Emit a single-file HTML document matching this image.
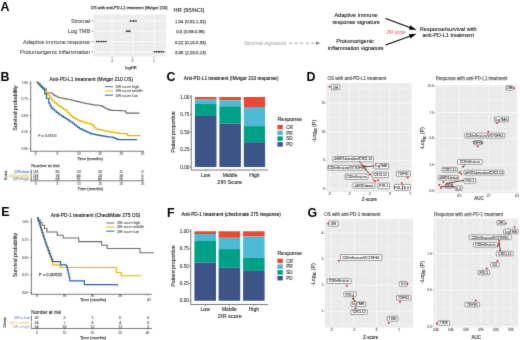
<!DOCTYPE html>
<html><head><meta charset="utf-8"><style>
html,body{margin:0;padding:0;background:#fff;width:520px;height:340px;overflow:hidden}
svg{display:block;font-family:"Liberation Sans", sans-serif}
#wrap{width:520px;height:340px}
</style></head><body><div id="wrap">
<svg width="520" height="340" viewBox="0 0 520 340" font-family='"Liberation Sans", sans-serif'>
<defs><filter id="soft" x="0" y="0" width="520" height="340" filterUnits="userSpaceOnUse" color-interpolation-filters="sRGB"><feConvolveMatrix order="3" kernelMatrix="1 8 1 8 64 8 1 8 1" divisor="100" edgeMode="duplicate"/></filter></defs>
<g filter="url(#soft)">
<rect width="520" height="340" fill="#fff"/>
<text x="0.60" y="10.51" font-size="12.4" text-anchor="start" fill="#000" font-weight="bold" >A</text>
<text x="129.20" y="8.86" font-size="4.05" text-anchor="middle" fill="none" stroke="#000" stroke-width="0.250" >OS with anti-PD-L1 treatment (Mvigor 210)</text>
<rect x="93.50" y="14.50" width="72.80" height="42.00" fill="#EDEDED" />
<line x1="101.00" y1="14.50" x2="101.00" y2="56.50" stroke="#fff" stroke-width="0.3" />
<line x1="122.00" y1="14.50" x2="122.00" y2="56.50" stroke="#fff" stroke-width="0.3" />
<line x1="143.00" y1="14.50" x2="143.00" y2="56.50" stroke="#fff" stroke-width="0.3" />
<line x1="164.00" y1="14.50" x2="164.00" y2="56.50" stroke="#fff" stroke-width="0.3" />
<line x1="112.00" y1="14.50" x2="112.00" y2="56.50" stroke="#fff" stroke-width="0.55" />
<line x1="132.50" y1="14.50" x2="132.50" y2="56.50" stroke="#fff" stroke-width="0.55" />
<line x1="154.00" y1="14.50" x2="154.00" y2="56.50" stroke="#fff" stroke-width="0.55" />
<line x1="93.50" y1="21.00" x2="166.30" y2="21.00" stroke="#fff" stroke-width="0.55" />
<text x="90.20" y="23.00" font-size="5.55" text-anchor="end" fill="#4a4a4a" stroke="#4a4a4a" stroke-width="0.09" >Stromal</text>
<line x1="91.30" y1="21.00" x2="93.50" y2="21.00" stroke="#555" stroke-width="0.5" />
<line x1="93.50" y1="31.20" x2="166.30" y2="31.20" stroke="#fff" stroke-width="0.55" />
<text x="90.20" y="33.20" font-size="5.55" text-anchor="end" fill="#4a4a4a" stroke="#4a4a4a" stroke-width="0.09" >Log TMB</text>
<line x1="91.30" y1="31.20" x2="93.50" y2="31.20" stroke="#555" stroke-width="0.5" />
<line x1="93.50" y1="41.50" x2="166.30" y2="41.50" stroke="#fff" stroke-width="0.55" />
<text x="90.20" y="43.50" font-size="5.55" text-anchor="end" fill="#4a4a4a" stroke="#4a4a4a" stroke-width="0.09" >Adaptive immune response</text>
<line x1="91.30" y1="41.50" x2="93.50" y2="41.50" stroke="#555" stroke-width="0.5" />
<line x1="93.50" y1="51.80" x2="166.30" y2="51.80" stroke="#fff" stroke-width="0.55" />
<text x="90.20" y="53.80" font-size="5.55" text-anchor="end" fill="#4a4a4a" stroke="#4a4a4a" stroke-width="0.09" >Protumorigenic inflammation</text>
<line x1="91.30" y1="51.80" x2="93.50" y2="51.80" stroke="#555" stroke-width="0.5" />
<line x1="112.00" y1="56.50" x2="112.00" y2="58.30" stroke="#555" stroke-width="0.5" />
<text x="112.00" y="62.46" font-size="3.5" text-anchor="middle" fill="none" stroke="#4D4D4D" stroke-width="0.200" >-1</text>
<line x1="132.50" y1="56.50" x2="132.50" y2="58.30" stroke="#555" stroke-width="0.5" />
<text x="132.50" y="62.46" font-size="3.5" text-anchor="middle" fill="none" stroke="#4D4D4D" stroke-width="0.200" >0</text>
<line x1="154.00" y1="56.50" x2="154.00" y2="58.30" stroke="#555" stroke-width="0.5" />
<text x="154.00" y="62.46" font-size="3.5" text-anchor="middle" fill="none" stroke="#4D4D4D" stroke-width="0.200" >1</text>
<text x="131.00" y="68.68" font-size="4.1" text-anchor="middle" fill="none" stroke="#111" stroke-width="0.250" >logHR</text>
<line x1="130.40" y1="21.00" x2="136.10" y2="21.00" stroke="#444" stroke-width="0.8" />
<circle cx="130.40" cy="21.0" r="0.75" fill="#222"/>
<circle cx="133.25" cy="21.0" r="0.75" fill="#222"/>
<circle cx="136.10" cy="21.0" r="0.75" fill="#222"/>
<circle cx="133.25" cy="21.0" r="0.6" fill="#7A2020"/>
<line x1="126.40" y1="31.20" x2="130.00" y2="31.20" stroke="#444" stroke-width="0.8" />
<circle cx="126.40" cy="31.2" r="0.75" fill="#222"/>
<circle cx="128.20" cy="31.2" r="0.75" fill="#222"/>
<circle cx="130.00" cy="31.2" r="0.75" fill="#222"/>
<circle cx="128.20" cy="31.2" r="0.6" fill="#7A2020"/>
<line x1="96.60" y1="41.60" x2="106.00" y2="41.60" stroke="#444" stroke-width="0.8" />
<circle cx="96.60" cy="41.6" r="0.75" fill="#222"/>
<circle cx="98.95" cy="41.6" r="0.75" fill="#222"/>
<circle cx="101.30" cy="41.6" r="0.75" fill="#222"/>
<circle cx="103.65" cy="41.6" r="0.75" fill="#222"/>
<circle cx="106.00" cy="41.6" r="0.75" fill="#222"/>
<circle cx="101.30" cy="41.6" r="0.6" fill="#7A2020"/>
<line x1="154.20" y1="51.80" x2="163.80" y2="51.80" stroke="#444" stroke-width="0.8" />
<circle cx="154.20" cy="51.8" r="0.75" fill="#222"/>
<circle cx="156.60" cy="51.8" r="0.75" fill="#222"/>
<circle cx="159.00" cy="51.8" r="0.75" fill="#222"/>
<circle cx="161.40" cy="51.8" r="0.75" fill="#222"/>
<circle cx="163.80" cy="51.8" r="0.75" fill="#222"/>
<circle cx="159.00" cy="51.8" r="0.6" fill="#7A2020"/>
<text x="173.50" y="12.07" font-size="5.75" text-anchor="start" fill="#222" stroke="#222" stroke-width="0.09" >HR (95%CI)</text>
<text x="190.50" y="22.57" font-size="4.36" text-anchor="middle" fill="none" stroke="#222" stroke-width="0.250" >1.04 (0.82-1.32)</text>
<text x="190.50" y="33.07" font-size="4.36" text-anchor="middle" fill="none" stroke="#222" stroke-width="0.250" >0.8 (0.69-0.96)</text>
<text x="190.50" y="43.57" font-size="4.36" text-anchor="middle" fill="none" stroke="#222" stroke-width="0.250" >0.22 (0.15-0.33)</text>
<text x="190.50" y="53.57" font-size="4.36" text-anchor="middle" fill="none" stroke="#222" stroke-width="0.250" >3.36 (2.23-5.13)</text>
<text x="265.30" y="45.06" font-size="5.45" text-anchor="middle" fill="#b4b4b4" stroke="#b4b4b4" stroke-width="0.09" >Stromal signature</text>
<line x1="289.00" y1="43.20" x2="317.00" y2="43.20" stroke="#8a8a8a" stroke-width="0.8" stroke-dasharray="3,2.6"/>
<polygon points="320.2,43.2 316.0,41.6 316.0,44.8" fill="#777"/>
<text x="356.00" y="17.42" font-size="5.6" text-anchor="middle" fill="#111" stroke="#111" stroke-width="0.09" >Adaptive immune</text>
<text x="356.20" y="24.12" font-size="5.6" text-anchor="middle" fill="#111" stroke="#111" stroke-width="0.09" >response signature</text>
<text x="355.00" y="43.02" font-size="5.6" text-anchor="middle" fill="#111" stroke="#111" stroke-width="0.09" >Protumorigenic</text>
<text x="355.80" y="49.70" font-size="5.55" text-anchor="middle" fill="#111" stroke="#111" stroke-width="0.09" >inflammation signature</text>
<line x1="385.60" y1="18.50" x2="412.50" y2="28.40" stroke="#000" stroke-width="1.1" />
<polygon points="416.6,29.9 410.2,25.3 409.0,29.6" fill="#000"/>
<line x1="385.60" y1="45.00" x2="412.50" y2="35.30" stroke="#000" stroke-width="1.1" />
<polygon points="416.6,33.8 409.0,34.2 410.2,38.4" fill="#000"/>
<text x="396.00" y="33.66" font-size="4.6" text-anchor="middle" fill="#E8737C" stroke="#E8737C" stroke-width="0.09" >2IR score</text>
<text x="448.20" y="30.50" font-size="5.55" text-anchor="middle" fill="#111" stroke="#111" stroke-width="0.09" >Response/survival with</text>
<text x="448.20" y="37.40" font-size="5.55" text-anchor="middle" fill="#111" stroke="#111" stroke-width="0.09" >anti-PD-L1 treatment</text>
<text x="0.60" y="80.61" font-size="12.4" text-anchor="start" fill="#000" font-weight="bold" >B</text>
<text x="91.20" y="81.26" font-size="4.9" text-anchor="middle" fill="#000" stroke="#000" stroke-width="0.09" >Anti-PD-L1 treatment (Mvigor 210 OS)</text>
<line x1="30.75" y1="81.20" x2="30.75" y2="151.50" stroke="#222" stroke-width="0.6" />
<line x1="30.50" y1="151.25" x2="144.00" y2="151.25" stroke="#222" stroke-width="0.6" />
<text x="27.80" y="84.19" font-size="3.3" text-anchor="end" fill="none" stroke="#4D4D4D" stroke-width="0.200" >1.00</text>
<line x1="29.50" y1="83.00" x2="30.75" y2="83.00" stroke="#222" stroke-width="0.5" />
<text x="27.80" y="100.44" font-size="3.3" text-anchor="end" fill="none" stroke="#4D4D4D" stroke-width="0.200" >0.75</text>
<line x1="29.50" y1="99.25" x2="30.75" y2="99.25" stroke="#222" stroke-width="0.5" />
<text x="27.80" y="116.94" font-size="3.3" text-anchor="end" fill="none" stroke="#4D4D4D" stroke-width="0.200" >0.50</text>
<line x1="29.50" y1="115.75" x2="30.75" y2="115.75" stroke="#222" stroke-width="0.5" />
<text x="27.80" y="133.19" font-size="3.3" text-anchor="end" fill="none" stroke="#4D4D4D" stroke-width="0.200" >0.25</text>
<line x1="29.50" y1="132.00" x2="30.75" y2="132.00" stroke="#222" stroke-width="0.5" />
<text x="27.80" y="149.94" font-size="3.3" text-anchor="end" fill="none" stroke="#4D4D4D" stroke-width="0.200" >0.00</text>
<line x1="29.50" y1="148.75" x2="30.75" y2="148.75" stroke="#222" stroke-width="0.5" />
<text transform="translate(16.94,108.20) rotate(-90)" font-size="5.4" text-anchor="middle" fill="#222" stroke="#222" stroke-width="0.09">Survival probability</text>
<line x1="35.75" y1="151.25" x2="35.75" y2="152.50" stroke="#222" stroke-width="0.5" />
<text x="35.75" y="155.09" font-size="3.3" text-anchor="middle" fill="none" stroke="#4D4D4D" stroke-width="0.200" >0</text>
<line x1="57.50" y1="151.25" x2="57.50" y2="152.50" stroke="#222" stroke-width="0.5" />
<text x="57.50" y="155.09" font-size="3.3" text-anchor="middle" fill="none" stroke="#4D4D4D" stroke-width="0.200" >5</text>
<line x1="78.75" y1="151.25" x2="78.75" y2="152.50" stroke="#222" stroke-width="0.5" />
<text x="78.75" y="155.09" font-size="3.3" text-anchor="middle" fill="none" stroke="#4D4D4D" stroke-width="0.200" >10</text>
<line x1="100.00" y1="151.25" x2="100.00" y2="152.50" stroke="#222" stroke-width="0.5" />
<text x="100.00" y="155.09" font-size="3.3" text-anchor="middle" fill="none" stroke="#4D4D4D" stroke-width="0.200" >15</text>
<line x1="121.25" y1="151.25" x2="121.25" y2="152.50" stroke="#222" stroke-width="0.5" />
<text x="121.25" y="155.09" font-size="3.3" text-anchor="middle" fill="none" stroke="#4D4D4D" stroke-width="0.200" >20</text>
<line x1="142.50" y1="151.25" x2="142.50" y2="152.50" stroke="#222" stroke-width="0.5" />
<text x="142.50" y="155.09" font-size="3.3" text-anchor="middle" fill="none" stroke="#4D4D4D" stroke-width="0.200" >25</text>
<text x="90.00" y="160.44" font-size="4.0" text-anchor="middle" fill="none" stroke="#222" stroke-width="0.250" >Time (months)</text>
<text x="38.00" y="137.20" font-size="3.9" text-anchor="start" fill="none" stroke="#222" stroke-width="0.200" >P = 0.0001</text>
<line x1="104.80" y1="86.70" x2="113.00" y2="86.70" stroke="#6A6A6A" stroke-width="1.0" />
<text x="115.40" y="88.02" font-size="3.66" text-anchor="start" fill="none" stroke="#222" stroke-width="0.200" >2IR score high</text>
<line x1="104.80" y1="90.95" x2="113.00" y2="90.95" stroke="#E7B800" stroke-width="1.0" />
<text x="115.40" y="92.27" font-size="3.66" text-anchor="start" fill="none" stroke="#222" stroke-width="0.200" >2IR score middle</text>
<line x1="104.80" y1="95.20" x2="113.00" y2="95.20" stroke="#2862B0" stroke-width="1.0" />
<text x="115.40" y="96.52" font-size="3.66" text-anchor="start" fill="none" stroke="#222" stroke-width="0.200" >2IR score low</text>
<polyline points="36.60,82.40 38.55,82.40 38.55,84.10 40.50,84.10 40.50,85.80 42.30,85.80 42.30,87.45 44.10,87.45 44.10,89.10 46.50,89.10 46.50,92.60 48.17,92.60 48.17,92.80 49.83,92.80 49.83,93.00 51.50,93.00 51.50,93.20 52.75,93.20 52.75,94.30 54.00,94.30 54.00,95.40 55.40,95.40 55.40,96.07 56.80,96.07 56.80,96.73 58.20,96.73 58.20,97.40 59.65,97.40 59.65,97.70 61.10,97.70 61.10,98.00 62.55,98.00 62.55,98.30 64.00,98.30 64.00,98.60 65.50,98.60 65.50,98.88 67.00,98.88 67.00,99.15 68.50,99.15 68.50,99.42 70.00,99.42 70.00,99.70 71.75,99.70 71.75,100.17 73.50,100.17 73.50,100.65 75.25,100.65 75.25,101.12 77.00,101.12 77.00,101.60 78.78,101.60 78.78,102.00 80.55,102.00 80.55,102.40 82.32,102.40 82.32,102.80 84.10,102.80 84.10,103.20 85.57,103.20 85.57,103.47 87.05,103.47 87.05,103.75 88.53,103.75 88.53,104.03 90.00,104.03 90.00,104.30 91.47,104.30 91.47,104.50 92.95,104.50 92.95,104.70 94.43,104.70 94.43,104.90 95.90,104.90 95.90,105.10 97.47,105.10 97.47,105.27 99.03,105.27 99.03,105.43 100.60,105.43 100.60,105.60 102.07,105.60 102.07,106.47 103.53,106.47 103.53,107.33 105.00,107.33 105.00,108.20 106.67,108.20 106.67,108.90 108.33,108.90 108.33,109.60 110.00,109.60 110.00,110.30 111.57,110.30 111.57,110.36 113.13,110.36 113.13,110.41 114.70,110.41 114.70,110.47 116.27,110.47 116.27,110.52 117.83,110.52 117.83,110.58 119.40,110.58 119.40,110.63 120.97,110.63 120.97,110.69 122.53,110.69 122.53,110.74 124.10,110.74 124.10,110.80 125.30,110.80 125.30,111.95 126.50,111.95 126.50,113.10 128.11,113.10 128.11,113.10 129.72,113.10 129.72,113.10 131.34,113.10 131.34,113.10 132.95,113.10 132.95,113.10 134.56,113.10 134.56,113.10 136.18,113.10 136.18,113.10 137.79,113.10 137.79,113.10 139.40,113.10 139.40,113.10" fill="none" stroke="#6A6A6A" stroke-width="1.05" stroke-linejoin="miter" />
<polyline points="36.60,82.40 38.55,82.40 38.55,84.20 40.50,84.20 40.50,86.00 41.87,86.00 41.87,87.43 43.23,87.43 43.23,88.87 44.60,88.87 44.60,90.30 46.20,90.30 46.20,92.65 47.80,92.65 47.80,95.00 49.50,95.00 49.50,97.35 51.20,97.35 51.20,99.70 52.85,99.70 52.85,101.25 54.50,101.25 54.50,102.80 56.35,102.80 56.35,104.20 58.20,104.20 58.20,105.60 59.85,105.60 59.85,106.70 61.50,106.70 61.50,107.80 63.40,107.80 63.40,109.05 65.30,109.05 65.30,110.30 67.15,110.30 67.15,112.25 69.00,112.25 69.00,114.20 70.70,114.20 70.70,115.80 72.40,115.80 72.40,117.40 74.20,117.40 74.20,118.40 76.00,118.40 76.00,119.40 77.70,119.40 77.70,120.15 79.40,120.15 79.40,120.90 81.27,120.90 81.27,121.47 83.13,121.47 83.13,122.03 85.00,122.03 85.00,122.60 86.55,122.60 86.55,123.05 88.10,123.05 88.10,123.50 89.65,123.50 89.65,123.95 91.20,123.95 91.20,124.40 92.77,124.40 92.77,125.97 94.33,125.97 94.33,127.53 95.90,127.53 95.90,129.10 97.77,129.10 97.77,129.47 99.63,129.47 99.63,129.83 101.50,129.83 101.50,130.20 103.03,130.20 103.03,130.52 104.55,130.52 104.55,130.85 106.07,130.85 106.07,131.18 107.60,131.18 107.60,131.50 109.40,131.50 109.40,131.83 111.20,131.83 111.20,132.17 113.00,132.17 113.00,132.50 114.60,132.50 114.60,132.72 116.20,132.72 116.20,132.95 117.80,132.95 117.80,133.18 119.40,133.18 119.40,133.40 121.18,133.40 121.18,133.50 122.95,133.50 122.95,133.60 124.72,133.60 124.72,133.70 126.50,133.70 126.50,133.80 127.60,133.80 127.60,135.70 129.22,135.70 129.22,135.70 130.85,135.70 130.85,135.70 132.47,135.70 132.47,135.70 134.10,135.70 134.10,135.70 135.72,135.70 135.72,135.70 137.35,135.70 137.35,135.70 138.97,135.70 138.97,135.70 140.60,135.70 140.60,135.70" fill="none" stroke="#E7B800" stroke-width="1.2" stroke-linejoin="miter" />
<polyline points="36.60,82.40 38.30,82.40 38.30,84.10 40.00,84.10 40.00,85.80 41.45,85.80 41.45,87.45 42.90,87.45 42.90,89.10 44.70,89.10 44.70,93.80 46.50,93.80 46.50,98.50 48.80,98.50 48.80,103.20 50.00,103.20 50.00,105.55 51.20,105.55 51.20,107.90 52.85,107.90 52.85,109.45 54.50,109.45 54.50,111.00 56.35,111.00 56.35,112.40 58.20,112.40 58.20,113.80 59.85,113.80 59.85,115.00 61.50,115.00 61.50,116.20 63.40,116.20 63.40,117.35 65.30,117.35 65.30,118.50 67.05,118.50 67.05,119.65 68.80,119.65 68.80,120.80 70.60,120.80 70.60,122.00 72.40,122.00 72.40,123.20 74.20,123.20 74.20,124.60 76.00,124.60 76.00,126.00 77.70,126.00 77.70,127.30 79.40,127.30 79.40,128.60 81.27,128.60 81.27,129.47 83.13,129.47 83.13,130.33 85.00,130.33 85.00,131.20 86.55,131.20 86.55,131.85 88.10,131.85 88.10,132.50 89.65,132.50 89.65,133.15 91.20,133.15 91.20,133.80 92.80,133.80 92.80,134.13 94.40,134.13 94.40,134.47 96.00,134.47 96.00,134.80 97.53,134.80 97.53,135.10 99.07,135.10 99.07,135.40 100.60,135.40 100.60,135.70 102.07,135.70 102.07,135.92 103.55,135.92 103.55,136.15 105.03,136.15 105.03,136.38 106.50,136.38 106.50,136.60 107.97,136.60 107.97,136.80 109.45,136.80 109.45,137.00 110.93,137.00 110.93,137.20 112.40,137.20 112.40,137.40 113.85,137.40 113.85,137.97 115.30,137.97 115.30,138.55 116.75,138.55 116.75,139.12 118.20,139.12 118.20,139.70 119.78,139.70 119.78,139.70 121.35,139.70 121.35,139.70 122.92,139.70 122.92,139.70 124.50,139.70 124.50,139.70 126.08,139.70 126.08,139.70 127.65,139.70 127.65,139.70 129.22,139.70 129.22,139.70 130.80,139.70 130.80,139.70 132.38,139.70 132.38,139.70 133.95,139.70 133.95,139.70 135.53,139.70 135.53,139.70 137.10,139.70 137.10,139.70" fill="none" stroke="#2862B0" stroke-width="1.2" stroke-linejoin="miter" />
<text x="31.20" y="167.38" font-size="4.4" text-anchor="start" fill="none" stroke="#222" stroke-width="0.250" >Number at risk</text>
<text transform="translate(6.66,175.50) rotate(-90)" font-size="3.5" text-anchor="middle" fill="none" stroke="#222" stroke-width="0.200">Strata</text>
<line x1="31.20" y1="169.80" x2="31.20" y2="181.50" stroke="#222" stroke-width="0.6" />
<line x1="31.00" y1="180.80" x2="144.00" y2="180.80" stroke="#222" stroke-width="0.6" />
<text x="28.90" y="173.24" font-size="4.0" text-anchor="end" fill="none" stroke="#5B84C4" stroke-width="0.250" >2IR=low</text>
<rect x="30.60" y="170.50" width="0.80" height="2.60" fill="#5B84C4" />
<text x="35.75" y="173.06" font-size="3.5" text-anchor="middle" fill="none" stroke="#222" stroke-width="0.200" >116</text>
<text x="57.50" y="173.06" font-size="3.5" text-anchor="middle" fill="none" stroke="#222" stroke-width="0.200" >60</text>
<text x="78.75" y="173.06" font-size="3.5" text-anchor="middle" fill="none" stroke="#222" stroke-width="0.200" >30</text>
<text x="100.00" y="173.06" font-size="3.5" text-anchor="middle" fill="none" stroke="#222" stroke-width="0.200" >20</text>
<text x="121.25" y="173.06" font-size="3.5" text-anchor="middle" fill="none" stroke="#222" stroke-width="0.200" >11</text>
<text x="142.50" y="173.06" font-size="3.5" text-anchor="middle" fill="none" stroke="#222" stroke-width="0.200" >0</text>
<text x="28.90" y="176.79" font-size="4.0" text-anchor="end" fill="none" stroke="#E3CB6A" stroke-width="0.250" >2IR=middle</text>
<rect x="30.60" y="174.05" width="0.80" height="2.60" fill="#E3CB6A" />
<text x="35.75" y="176.61" font-size="3.5" text-anchor="middle" fill="none" stroke="#222" stroke-width="0.200" >116</text>
<text x="57.50" y="176.61" font-size="3.5" text-anchor="middle" fill="none" stroke="#222" stroke-width="0.200" >79</text>
<text x="78.75" y="176.61" font-size="3.5" text-anchor="middle" fill="none" stroke="#222" stroke-width="0.200" >45</text>
<text x="100.00" y="176.61" font-size="3.5" text-anchor="middle" fill="none" stroke="#222" stroke-width="0.200" >30</text>
<text x="121.25" y="176.61" font-size="3.5" text-anchor="middle" fill="none" stroke="#222" stroke-width="0.200" >16</text>
<text x="142.50" y="176.61" font-size="3.5" text-anchor="middle" fill="none" stroke="#222" stroke-width="0.200" >0</text>
<text x="28.90" y="180.34" font-size="4.0" text-anchor="end" fill="none" stroke="#8C8C8C" stroke-width="0.250" >2IR=high</text>
<rect x="30.60" y="177.60" width="0.80" height="2.60" fill="#8C8C8C" />
<text x="35.75" y="180.16" font-size="3.5" text-anchor="middle" fill="none" stroke="#222" stroke-width="0.200" >116</text>
<text x="57.50" y="180.16" font-size="3.5" text-anchor="middle" fill="none" stroke="#222" stroke-width="0.200" >89</text>
<text x="78.75" y="180.16" font-size="3.5" text-anchor="middle" fill="none" stroke="#222" stroke-width="0.200" >61</text>
<text x="100.00" y="180.16" font-size="3.5" text-anchor="middle" fill="none" stroke="#222" stroke-width="0.200" >48</text>
<text x="121.25" y="180.16" font-size="3.5" text-anchor="middle" fill="none" stroke="#222" stroke-width="0.200" >28</text>
<text x="142.50" y="180.16" font-size="3.5" text-anchor="middle" fill="none" stroke="#222" stroke-width="0.200" >0</text>
<line x1="35.75" y1="180.80" x2="35.75" y2="182.00" stroke="#222" stroke-width="0.5" />
<text x="35.75" y="185.39" font-size="3.3" text-anchor="middle" fill="none" stroke="#4D4D4D" stroke-width="0.200" >0</text>
<line x1="57.50" y1="180.80" x2="57.50" y2="182.00" stroke="#222" stroke-width="0.5" />
<text x="57.50" y="185.39" font-size="3.3" text-anchor="middle" fill="none" stroke="#4D4D4D" stroke-width="0.200" >5</text>
<line x1="78.75" y1="180.80" x2="78.75" y2="182.00" stroke="#222" stroke-width="0.5" />
<text x="78.75" y="185.39" font-size="3.3" text-anchor="middle" fill="none" stroke="#4D4D4D" stroke-width="0.200" >10</text>
<line x1="100.00" y1="180.80" x2="100.00" y2="182.00" stroke="#222" stroke-width="0.5" />
<text x="100.00" y="185.39" font-size="3.3" text-anchor="middle" fill="none" stroke="#4D4D4D" stroke-width="0.200" >15</text>
<line x1="121.25" y1="180.80" x2="121.25" y2="182.00" stroke="#222" stroke-width="0.5" />
<text x="121.25" y="185.39" font-size="3.3" text-anchor="middle" fill="none" stroke="#4D4D4D" stroke-width="0.200" >20</text>
<line x1="142.50" y1="180.80" x2="142.50" y2="182.00" stroke="#222" stroke-width="0.5" />
<text x="142.50" y="185.39" font-size="3.3" text-anchor="middle" fill="none" stroke="#4D4D4D" stroke-width="0.200" >25</text>
<text x="90.30" y="189.74" font-size="4.0" text-anchor="middle" fill="none" stroke="#222" stroke-width="0.250" >Time (months)</text>
<text x="166.60" y="81.06" font-size="12.4" text-anchor="start" fill="#000" font-weight="bold" >C</text>
<text x="231.20" y="80.46" font-size="4.75" text-anchor="middle" fill="#000" stroke="#000" stroke-width="0.09" >Anti-PD-L1 treatment (IMvigor 210 response)</text>
<line x1="191.25" y1="95.00" x2="191.25" y2="170.00" stroke="#222" stroke-width="0.6" />
<line x1="191.25" y1="170.00" x2="268.00" y2="170.00" stroke="#222" stroke-width="0.6" />
<text x="189.25" y="98.66" font-size="4.6" text-anchor="end" fill="#333" stroke="#333" stroke-width="0.09" >1.00</text>
<line x1="189.75" y1="97.00" x2="191.25" y2="97.00" stroke="#222" stroke-width="0.5" />
<text x="189.25" y="116.16" font-size="4.6" text-anchor="end" fill="#333" stroke="#333" stroke-width="0.09" >0.75</text>
<line x1="189.75" y1="114.50" x2="191.25" y2="114.50" stroke="#222" stroke-width="0.5" />
<text x="189.25" y="133.66" font-size="4.6" text-anchor="end" fill="#333" stroke="#333" stroke-width="0.09" >0.50</text>
<line x1="189.75" y1="132.00" x2="191.25" y2="132.00" stroke="#222" stroke-width="0.5" />
<text x="189.25" y="151.16" font-size="4.6" text-anchor="end" fill="#333" stroke="#333" stroke-width="0.09" >0.25</text>
<line x1="189.75" y1="149.50" x2="191.25" y2="149.50" stroke="#222" stroke-width="0.5" />
<text x="189.25" y="168.66" font-size="4.6" text-anchor="end" fill="#333" stroke="#333" stroke-width="0.09" >0.00</text>
<line x1="189.75" y1="167.00" x2="191.25" y2="167.00" stroke="#222" stroke-width="0.5" />
<text transform="translate(175.19,132.00) rotate(-90)" font-size="5.25" text-anchor="middle" fill="#222" stroke="#222" stroke-width="0.09">Patient proportion</text>
<rect x="194.90" y="97.00" width="21.60" height="2.50" fill="#E64B35" />
<rect x="194.90" y="99.50" width="21.60" height="4.50" fill="#4DBBD5" />
<rect x="194.90" y="104.00" width="21.60" height="12.00" fill="#00A087" />
<rect x="194.90" y="116.00" width="21.60" height="51.00" fill="#3C5488" />
<line x1="205.70" y1="170.00" x2="205.70" y2="171.30" stroke="#222" stroke-width="0.5" />
<text x="205.70" y="176.70" font-size="5.0" text-anchor="middle" fill="#222" stroke="#222" stroke-width="0.09" >Low</text>
<rect x="219.40" y="97.00" width="21.50" height="3.40" fill="#E64B35" />
<rect x="219.40" y="100.40" width="21.50" height="5.90" fill="#4DBBD5" />
<rect x="219.40" y="106.30" width="21.50" height="17.30" fill="#00A087" />
<rect x="219.40" y="123.60" width="21.50" height="43.40" fill="#3C5488" />
<line x1="230.15" y1="170.00" x2="230.15" y2="171.30" stroke="#222" stroke-width="0.5" />
<text x="230.15" y="176.70" font-size="5.0" text-anchor="middle" fill="#222" stroke="#222" stroke-width="0.09" >Middle</text>
<rect x="243.80" y="97.00" width="21.30" height="10.00" fill="#E64B35" />
<rect x="243.80" y="107.00" width="21.30" height="19.10" fill="#4DBBD5" />
<rect x="243.80" y="126.10" width="21.30" height="16.10" fill="#00A087" />
<rect x="243.80" y="142.20" width="21.30" height="24.80" fill="#3C5488" />
<line x1="254.45" y1="170.00" x2="254.45" y2="171.30" stroke="#222" stroke-width="0.5" />
<text x="254.45" y="176.70" font-size="5.0" text-anchor="middle" fill="#222" stroke="#222" stroke-width="0.09" >High</text>
<text x="229.80" y="184.22" font-size="5.6" text-anchor="middle" fill="#222" stroke="#222" stroke-width="0.09" >2IR Score</text>
<text x="277.40" y="120.98" font-size="5.5" text-anchor="start" fill="#222" stroke="#222" stroke-width="0.09" >Response</text>
<rect x="277.40" y="124.85" width="5.40" height="4.50" fill="#E64B35" />
<text x="286.20" y="128.79" font-size="4.7" text-anchor="start" fill="#222" stroke="#222" stroke-width="0.09" >CR</text>
<rect x="277.40" y="130.60" width="5.40" height="4.50" fill="#4DBBD5" />
<text x="286.20" y="134.54" font-size="4.7" text-anchor="start" fill="#222" stroke="#222" stroke-width="0.09" >PR</text>
<rect x="277.40" y="136.35" width="5.40" height="4.50" fill="#00A087" />
<text x="286.20" y="140.29" font-size="4.7" text-anchor="start" fill="#222" stroke="#222" stroke-width="0.09" >SD</text>
<rect x="277.40" y="142.10" width="5.40" height="4.50" fill="#3C5488" />
<text x="286.20" y="146.04" font-size="4.7" text-anchor="start" fill="#222" stroke="#222" stroke-width="0.09" >PD</text>
<text x="167.00" y="216.71" font-size="12.4" text-anchor="start" fill="#000" font-weight="bold" >F</text>
<text x="231.20" y="215.96" font-size="4.75" text-anchor="middle" fill="#000" stroke="#000" stroke-width="0.09" >Anti-PD-1 treatment (checkmate 275 response)</text>
<line x1="190.75" y1="229.25" x2="190.75" y2="304.50" stroke="#222" stroke-width="0.6" />
<line x1="190.75" y1="304.50" x2="268.00" y2="304.50" stroke="#222" stroke-width="0.6" />
<text x="188.75" y="232.91" font-size="4.6" text-anchor="end" fill="#333" stroke="#333" stroke-width="0.09" >1.00</text>
<line x1="189.25" y1="231.25" x2="190.75" y2="231.25" stroke="#222" stroke-width="0.5" />
<text x="188.75" y="250.28" font-size="4.6" text-anchor="end" fill="#333" stroke="#333" stroke-width="0.09" >0.75</text>
<line x1="189.25" y1="248.62" x2="190.75" y2="248.62" stroke="#222" stroke-width="0.5" />
<text x="188.75" y="267.66" font-size="4.6" text-anchor="end" fill="#333" stroke="#333" stroke-width="0.09" >0.50</text>
<line x1="189.25" y1="266.00" x2="190.75" y2="266.00" stroke="#222" stroke-width="0.5" />
<text x="188.75" y="285.03" font-size="4.6" text-anchor="end" fill="#333" stroke="#333" stroke-width="0.09" >0.25</text>
<line x1="189.25" y1="283.38" x2="190.75" y2="283.38" stroke="#222" stroke-width="0.5" />
<text x="188.75" y="302.41" font-size="4.6" text-anchor="end" fill="#333" stroke="#333" stroke-width="0.09" >0.00</text>
<line x1="189.25" y1="300.75" x2="190.75" y2="300.75" stroke="#222" stroke-width="0.5" />
<text transform="translate(175.19,266.00) rotate(-90)" font-size="5.25" text-anchor="middle" fill="#222" stroke="#222" stroke-width="0.09">Patient proportion</text>
<rect x="194.40" y="231.25" width="21.60" height="2.75" fill="#E64B35" />
<rect x="194.40" y="234.00" width="21.60" height="7.00" fill="#4DBBD5" />
<rect x="194.40" y="241.00" width="21.60" height="21.60" fill="#00A087" />
<rect x="194.40" y="262.60" width="21.60" height="38.15" fill="#3C5488" />
<line x1="205.20" y1="304.50" x2="205.20" y2="305.80" stroke="#222" stroke-width="0.5" />
<text x="205.20" y="310.55" font-size="5.0" text-anchor="middle" fill="#222" stroke="#222" stroke-width="0.09" >Low</text>
<rect x="218.60" y="231.25" width="21.60" height="6.55" fill="#E64B35" />
<rect x="218.60" y="237.80" width="21.60" height="11.30" fill="#4DBBD5" />
<rect x="218.60" y="249.10" width="21.60" height="18.70" fill="#00A087" />
<rect x="218.60" y="267.80" width="21.60" height="32.95" fill="#3C5488" />
<line x1="229.40" y1="304.50" x2="229.40" y2="305.80" stroke="#222" stroke-width="0.5" />
<text x="229.40" y="310.55" font-size="5.0" text-anchor="middle" fill="#222" stroke="#222" stroke-width="0.09" >Middle</text>
<rect x="243.10" y="231.25" width="21.50" height="5.25" fill="#E64B35" />
<rect x="243.10" y="236.50" width="21.50" height="21.50" fill="#4DBBD5" />
<rect x="243.10" y="258.00" width="21.50" height="12.90" fill="#00A087" />
<rect x="243.10" y="270.90" width="21.50" height="29.85" fill="#3C5488" />
<line x1="253.85" y1="304.50" x2="253.85" y2="305.80" stroke="#222" stroke-width="0.5" />
<text x="253.85" y="310.55" font-size="5.0" text-anchor="middle" fill="#222" stroke="#222" stroke-width="0.09" >High</text>
<text x="229.80" y="318.27" font-size="5.6" text-anchor="middle" fill="#222" stroke="#222" stroke-width="0.09" >2IR score</text>
<text x="277.40" y="255.28" font-size="5.5" text-anchor="start" fill="#222" stroke="#222" stroke-width="0.09" >Response</text>
<rect x="277.40" y="258.65" width="5.40" height="4.50" fill="#E64B35" />
<text x="286.20" y="262.59" font-size="4.7" text-anchor="start" fill="#222" stroke="#222" stroke-width="0.09" >CR</text>
<rect x="277.40" y="264.40" width="5.40" height="4.50" fill="#4DBBD5" />
<text x="286.20" y="268.34" font-size="4.7" text-anchor="start" fill="#222" stroke="#222" stroke-width="0.09" >PR</text>
<rect x="277.40" y="270.15" width="5.40" height="4.50" fill="#00A087" />
<text x="286.20" y="274.09" font-size="4.7" text-anchor="start" fill="#222" stroke="#222" stroke-width="0.09" >SD</text>
<rect x="277.40" y="275.90" width="5.40" height="4.50" fill="#3C5488" />
<text x="286.20" y="279.84" font-size="4.7" text-anchor="start" fill="#222" stroke="#222" stroke-width="0.09" >PD</text>
<text x="306.40" y="81.41" font-size="12.4" text-anchor="start" fill="#000" font-weight="bold" >D</text>
<text x="327.50" y="79.72" font-size="4.5" text-anchor="start" fill="#333" stroke="#333" stroke-width="0.09" >OS with anti-PD-L1 treatment</text>
<rect x="326.60" y="83.00" width="85.30" height="108.80" fill="#EBEBEB" />
<line x1="339.45" y1="83.00" x2="339.45" y2="191.80" stroke="#fff" stroke-width="0.3" />
<line x1="359.35" y1="83.00" x2="359.35" y2="191.80" stroke="#fff" stroke-width="0.3" />
<line x1="379.25" y1="83.00" x2="379.25" y2="191.80" stroke="#fff" stroke-width="0.3" />
<line x1="399.15" y1="83.00" x2="399.15" y2="191.80" stroke="#fff" stroke-width="0.3" />
<line x1="326.60" y1="88.65" x2="411.90" y2="88.65" stroke="#fff" stroke-width="0.3" />
<line x1="326.60" y1="117.35" x2="411.90" y2="117.35" stroke="#fff" stroke-width="0.3" />
<line x1="326.60" y1="146.05" x2="411.90" y2="146.05" stroke="#fff" stroke-width="0.3" />
<line x1="326.60" y1="174.75" x2="411.90" y2="174.75" stroke="#fff" stroke-width="0.3" />
<line x1="329.50" y1="83.00" x2="329.50" y2="191.80" stroke="#fff" stroke-width="0.55" />
<line x1="329.50" y1="191.80" x2="329.50" y2="193.00" stroke="#555" stroke-width="0.45" />
<text x="329.50" y="195.38" font-size="3.0" text-anchor="middle" fill="none" stroke="#4D4D4D" stroke-width="0.200" >-3</text>
<line x1="349.40" y1="83.00" x2="349.40" y2="191.80" stroke="#fff" stroke-width="0.55" />
<line x1="349.40" y1="191.80" x2="349.40" y2="193.00" stroke="#555" stroke-width="0.45" />
<text x="349.40" y="195.38" font-size="3.0" text-anchor="middle" fill="none" stroke="#4D4D4D" stroke-width="0.200" >-2</text>
<line x1="369.70" y1="83.00" x2="369.70" y2="191.80" stroke="#fff" stroke-width="0.55" />
<line x1="369.70" y1="191.80" x2="369.70" y2="193.00" stroke="#555" stroke-width="0.45" />
<text x="369.70" y="195.38" font-size="3.0" text-anchor="middle" fill="none" stroke="#4D4D4D" stroke-width="0.200" >-1</text>
<line x1="390.00" y1="83.00" x2="390.00" y2="191.80" stroke="#fff" stroke-width="0.55" />
<line x1="390.00" y1="191.80" x2="390.00" y2="193.00" stroke="#555" stroke-width="0.45" />
<text x="390.00" y="195.38" font-size="3.0" text-anchor="middle" fill="none" stroke="#4D4D4D" stroke-width="0.200" >0</text>
<line x1="410.30" y1="83.00" x2="410.30" y2="191.80" stroke="#fff" stroke-width="0.55" />
<line x1="410.30" y1="191.80" x2="410.30" y2="193.00" stroke="#555" stroke-width="0.45" />
<text x="410.30" y="195.38" font-size="3.0" text-anchor="middle" fill="none" stroke="#4D4D4D" stroke-width="0.200" >1</text>
<line x1="326.60" y1="103.00" x2="411.90" y2="103.00" stroke="#fff" stroke-width="0.55" />
<line x1="325.40" y1="103.00" x2="326.60" y2="103.00" stroke="#555" stroke-width="0.45" />
<text x="324.80" y="104.08" font-size="3.0" text-anchor="end" fill="none" stroke="#4D4D4D" stroke-width="0.200" >15</text>
<line x1="326.60" y1="131.70" x2="411.90" y2="131.70" stroke="#fff" stroke-width="0.55" />
<line x1="325.40" y1="131.70" x2="326.60" y2="131.70" stroke="#555" stroke-width="0.45" />
<text x="324.80" y="132.78" font-size="3.0" text-anchor="end" fill="none" stroke="#4D4D4D" stroke-width="0.200" >10</text>
<line x1="326.60" y1="160.40" x2="411.90" y2="160.40" stroke="#fff" stroke-width="0.55" />
<line x1="325.40" y1="160.40" x2="326.60" y2="160.40" stroke="#555" stroke-width="0.45" />
<text x="324.80" y="161.48" font-size="3.0" text-anchor="end" fill="none" stroke="#4D4D4D" stroke-width="0.200" >5</text>
<line x1="326.60" y1="189.00" x2="411.90" y2="189.00" stroke="#fff" stroke-width="0.55" />
<line x1="325.40" y1="189.00" x2="326.60" y2="189.00" stroke="#555" stroke-width="0.45" />
<text x="324.80" y="190.08" font-size="3.0" text-anchor="end" fill="none" stroke="#4D4D4D" stroke-width="0.200" >0</text>
<text transform="translate(315.77,131.00) rotate(-90)" font-size="5.2" text-anchor="middle" fill="#222" stroke="#222" stroke-width="0.09">-Log<tspan font-size="3.4" dy="1.3">10</tspan><tspan dy="-1.3"> (P)</tspan></text>
<text x="369.50" y="200.62" font-size="4.5" text-anchor="middle" fill="#222" stroke="#222" stroke-width="0.09" >Z-score</text>
<rect x="331.30" y="84.70" width="8.50" height="5.10" rx="0.8" fill="#fff" stroke="#444" stroke-width="0.5"/>
<text x="335.55" y="88.51" font-size="3.5" text-anchor="middle" fill="none" stroke="#000" stroke-width="0.200" >2IR</text>
<rect x="333.00" y="156.60" width="40.40" height="5.20" rx="0.8" fill="#fff" stroke="#444" stroke-width="0.5"/>
<text x="353.20" y="160.46" font-size="3.5" text-anchor="middle" fill="none" stroke="#000" stroke-width="0.200" >ARID1AmutAndCXCL13</text>
<rect x="327.80" y="165.30" width="38.10" height="4.90" rx="0.8" fill="#fff" stroke="#444" stroke-width="0.5"/>
<text x="346.85" y="169.01" font-size="3.5" text-anchor="middle" fill="none" stroke="#000" stroke-width="0.200" >CD8effectors/VSTGFB1</text>
<rect x="373.80" y="163.60" width="15.00" height="5.20" rx="0.8" fill="#fff" stroke="#444" stroke-width="0.5"/>
<text x="381.30" y="167.46" font-size="3.5" text-anchor="middle" fill="none" stroke="#000" stroke-width="0.200" >logTMB</text>
<rect x="345.00" y="174.00" width="23.00" height="5.40" rx="0.8" fill="#fff" stroke="#444" stroke-width="0.5"/>
<text x="356.50" y="177.96" font-size="3.5" text-anchor="middle" fill="none" stroke="#000" stroke-width="0.200" >CD8effectors</text>
<rect x="372.00" y="172.20" width="16.40" height="5.40" rx="0.8" fill="#fff" stroke="#444" stroke-width="0.5"/>
<text x="380.20" y="176.16" font-size="3.5" text-anchor="middle" fill="none" stroke="#000" stroke-width="0.200" >CXCL13</text>
<rect x="396.30" y="171.20" width="14.20" height="5.10" rx="0.8" fill="#fff" stroke="#444" stroke-width="0.5"/>
<text x="403.40" y="175.01" font-size="3.5" text-anchor="middle" fill="none" stroke="#000" stroke-width="0.200" >TGFB1</text>
<rect x="353.00" y="183.00" width="21.80" height="5.20" rx="0.8" fill="#fff" stroke="#444" stroke-width="0.5"/>
<text x="363.90" y="186.86" font-size="3.5" text-anchor="middle" fill="none" stroke="#000" stroke-width="0.200" >ARID1Amut</text>
<rect x="378.00" y="183.20" width="11.50" height="5.60" rx="0.8" fill="#fff" stroke="#444" stroke-width="0.5"/>
<text x="383.75" y="187.26" font-size="3.5" text-anchor="middle" fill="none" stroke="#000" stroke-width="0.200" >PDL1</text>
<rect x="394.50" y="184.40" width="8.50" height="5.80" rx="0.8" fill="#fff" stroke="#444" stroke-width="0.5"/>
<text x="398.75" y="188.56" font-size="3.5" text-anchor="middle" fill="none" stroke="#000" stroke-width="0.200" >PDL1</text>
<rect x="403.00" y="184.40" width="7.50" height="5.80" rx="0.8" fill="#fff" stroke="#444" stroke-width="0.5"/>
<text x="406.75" y="188.56" font-size="3.5" text-anchor="middle" fill="none" stroke="#000" stroke-width="0.200" >IL8</text>
<line x1="359.30" y1="161.40" x2="370.10" y2="174.90" stroke="#4A0E0E" stroke-width="0.75" />
<line x1="362.70" y1="166.80" x2="374.10" y2="166.00" stroke="#4A0E0E" stroke-width="0.75" />
<line x1="372.50" y1="179.50" x2="375.50" y2="181.20" stroke="#4A0E0E" stroke-width="0.75" />
<circle cx="329.60" cy="86.80" r="0.95" fill="#D42A2A"/>
<circle cx="363.40" cy="166.20" r="0.95" fill="#D42A2A"/>
<circle cx="370.10" cy="174.60" r="0.95" fill="#D42A2A"/>
<circle cx="375.50" cy="181.20" r="0.95" fill="#D42A2A"/>
<circle cx="378.20" cy="180.30" r="0.95" fill="#D42A2A"/>
<circle cx="401.90" cy="183.10" r="0.95" fill="#D42A2A"/>
<circle cx="407.70" cy="177.50" r="0.95" fill="#D42A2A"/>
<text x="471.60" y="79.60" font-size="4.45" text-anchor="middle" fill="none" stroke="#333" stroke-width="0.250" >Response with anti-PD-L1 treatment</text>
<rect x="435.50" y="85.00" width="82.00" height="108.00" fill="#EBEBEB" />
<line x1="444.70" y1="85.00" x2="444.70" y2="193.00" stroke="#fff" stroke-width="0.3" />
<line x1="474.10" y1="85.00" x2="474.10" y2="193.00" stroke="#fff" stroke-width="0.3" />
<line x1="503.50" y1="85.00" x2="503.50" y2="193.00" stroke="#fff" stroke-width="0.3" />
<line x1="435.50" y1="99.40" x2="517.50" y2="99.40" stroke="#fff" stroke-width="0.3" />
<line x1="435.50" y1="125.60" x2="517.50" y2="125.60" stroke="#fff" stroke-width="0.3" />
<line x1="435.50" y1="151.80" x2="517.50" y2="151.80" stroke="#fff" stroke-width="0.3" />
<line x1="435.50" y1="178.00" x2="517.50" y2="178.00" stroke="#fff" stroke-width="0.3" />
<line x1="459.40" y1="85.00" x2="459.40" y2="193.00" stroke="#fff" stroke-width="0.55" />
<line x1="459.40" y1="193.00" x2="459.40" y2="194.20" stroke="#555" stroke-width="0.45" />
<text x="459.40" y="196.58" font-size="3.0" text-anchor="middle" fill="none" stroke="#4D4D4D" stroke-width="0.200" >0.6</text>
<line x1="488.80" y1="85.00" x2="488.80" y2="193.00" stroke="#fff" stroke-width="0.55" />
<line x1="488.80" y1="193.00" x2="488.80" y2="194.20" stroke="#555" stroke-width="0.45" />
<text x="488.80" y="196.58" font-size="3.0" text-anchor="middle" fill="none" stroke="#4D4D4D" stroke-width="0.200" >0.7</text>
<line x1="517.00" y1="85.00" x2="517.00" y2="193.00" stroke="#fff" stroke-width="0.55" />
<line x1="517.00" y1="193.00" x2="517.00" y2="194.20" stroke="#555" stroke-width="0.45" />
<text x="517.00" y="196.58" font-size="3.0" text-anchor="middle" fill="none" stroke="#4D4D4D" stroke-width="0.200" >0.8</text>
<line x1="435.50" y1="86.30" x2="517.50" y2="86.30" stroke="#fff" stroke-width="0.55" />
<line x1="434.30" y1="86.30" x2="435.50" y2="86.30" stroke="#555" stroke-width="0.45" />
<text x="433.70" y="87.38" font-size="3.0" text-anchor="end" fill="none" stroke="#4D4D4D" stroke-width="0.200" >10.0</text>
<line x1="435.50" y1="112.50" x2="517.50" y2="112.50" stroke="#fff" stroke-width="0.55" />
<line x1="434.30" y1="112.50" x2="435.50" y2="112.50" stroke="#555" stroke-width="0.45" />
<text x="433.70" y="113.58" font-size="3.0" text-anchor="end" fill="none" stroke="#4D4D4D" stroke-width="0.200" >7.5</text>
<line x1="435.50" y1="138.20" x2="517.50" y2="138.20" stroke="#fff" stroke-width="0.55" />
<line x1="434.30" y1="138.20" x2="435.50" y2="138.20" stroke="#555" stroke-width="0.45" />
<text x="433.70" y="139.28" font-size="3.0" text-anchor="end" fill="none" stroke="#4D4D4D" stroke-width="0.200" >5.0</text>
<line x1="435.50" y1="164.80" x2="517.50" y2="164.80" stroke="#fff" stroke-width="0.55" />
<line x1="434.30" y1="164.80" x2="435.50" y2="164.80" stroke="#555" stroke-width="0.45" />
<text x="433.70" y="165.88" font-size="3.0" text-anchor="end" fill="none" stroke="#4D4D4D" stroke-width="0.200" >2.5</text>
<line x1="435.50" y1="190.80" x2="517.50" y2="190.80" stroke="#fff" stroke-width="0.55" />
<line x1="434.30" y1="190.80" x2="435.50" y2="190.80" stroke="#555" stroke-width="0.45" />
<text x="433.70" y="191.88" font-size="3.0" text-anchor="end" fill="none" stroke="#4D4D4D" stroke-width="0.200" >0.0</text>
<text transform="translate(424.37,138.50) rotate(-90)" font-size="5.2" text-anchor="middle" fill="#222" stroke="#222" stroke-width="0.09">-Log<tspan font-size="3.4" dy="1.3">10</tspan><tspan dy="-1.3"> (P)</tspan></text>
<text x="479.00" y="200.22" font-size="4.5" text-anchor="middle" fill="#222" stroke="#222" stroke-width="0.09" >AUC</text>
<rect x="506.00" y="85.80" width="7.00" height="4.40" rx="0.8" fill="#fff" stroke="#444" stroke-width="0.5"/>
<text x="509.50" y="89.26" font-size="3.5" text-anchor="middle" fill="none" stroke="#000" stroke-width="0.200" >2IR</text>
<rect x="494.50" y="117.00" width="14.00" height="5.00" rx="0.8" fill="#fff" stroke="#444" stroke-width="0.5"/>
<text x="501.50" y="120.76" font-size="3.5" text-anchor="middle" fill="none" stroke="#000" stroke-width="0.200" >logTMB</text>
<rect x="464.70" y="133.20" width="40.10" height="4.80" rx="0.8" fill="#fff" stroke="#444" stroke-width="0.5"/>
<text x="484.75" y="136.86" font-size="3.5" text-anchor="middle" fill="none" stroke="#000" stroke-width="0.200" >CD8effectors/VSTGFB1</text>
<rect x="474.00" y="140.50" width="7.80" height="4.30" rx="0.8" fill="#fff" stroke="#444" stroke-width="0.5"/>
<text x="477.90" y="143.91" font-size="3.5" text-anchor="middle" fill="none" stroke="#000" stroke-width="0.200" >TGFB1</text>
<rect x="457.50" y="159.60" width="24.70" height="4.70" rx="0.8" fill="#fff" stroke="#444" stroke-width="0.5"/>
<text x="469.85" y="163.21" font-size="3.5" text-anchor="middle" fill="none" stroke="#000" stroke-width="0.200" >CD8effectors</text>
<rect x="442.00" y="167.40" width="15.50" height="4.70" rx="0.8" fill="#fff" stroke="#444" stroke-width="0.5"/>
<text x="449.75" y="171.01" font-size="3.5" text-anchor="middle" fill="none" stroke="#000" stroke-width="0.200" >CXCL13</text>
<rect x="464.00" y="170.20" width="39.80" height="4.80" rx="0.8" fill="#fff" stroke="#444" stroke-width="0.5"/>
<text x="483.90" y="173.86" font-size="3.5" text-anchor="middle" fill="none" stroke="#000" stroke-width="0.200" >ARID1AmutAndCXCL13</text>
<rect x="438.10" y="175.70" width="20.60" height="4.40" rx="0.8" fill="#fff" stroke="#444" stroke-width="0.5"/>
<text x="448.40" y="179.16" font-size="3.5" text-anchor="middle" fill="none" stroke="#000" stroke-width="0.200" >ARID1Amut</text>
<rect x="464.00" y="178.40" width="11.80" height="4.80" rx="0.8" fill="#fff" stroke="#444" stroke-width="0.5"/>
<text x="469.90" y="182.06" font-size="3.5" text-anchor="middle" fill="none" stroke="#000" stroke-width="0.200" >PDL1</text>
<rect x="445.20" y="183.60" width="7.60" height="4.60" rx="0.8" fill="#fff" stroke="#444" stroke-width="0.5"/>
<text x="449.00" y="187.16" font-size="3.5" text-anchor="middle" fill="none" stroke="#000" stroke-width="0.200" >TIDE</text>
<rect x="455.20" y="186.00" width="7.00" height="4.50" rx="0.8" fill="#fff" stroke="#444" stroke-width="0.5"/>
<text x="458.70" y="189.51" font-size="3.5" text-anchor="middle" fill="none" stroke="#000" stroke-width="0.200" >IL8</text>
<line x1="464.80" y1="164.50" x2="463.00" y2="167.20" stroke="#4A0E0E" stroke-width="0.75" />
<line x1="464.00" y1="180.30" x2="447.00" y2="183.40" stroke="#4A0E0E" stroke-width="0.75" />
<line x1="455.20" y1="187.00" x2="440.50" y2="186.60" stroke="#4A0E0E" stroke-width="0.75" />
<line x1="459.50" y1="172.00" x2="461.50" y2="170.50" stroke="#4A0E0E" stroke-width="0.75" />
<circle cx="514.00" cy="88.00" r="0.95" fill="#D42A2A"/>
<circle cx="497.00" cy="123.00" r="0.95" fill="#D42A2A"/>
<circle cx="488.40" cy="131.80" r="0.95" fill="#D42A2A"/>
<circle cx="477.80" cy="146.40" r="0.95" fill="#D42A2A"/>
<circle cx="463.20" cy="166.80" r="0.95" fill="#D42A2A"/>
<circle cx="459.30" cy="172.60" r="0.95" fill="#D42A2A"/>
<circle cx="461.30" cy="173.80" r="0.95" fill="#D42A2A"/>
<circle cx="439.30" cy="185.00" r="0.95" fill="#D42A2A"/>
<circle cx="441.00" cy="188.00" r="0.95" fill="#D42A2A"/>
<circle cx="443.40" cy="182.00" r="0.95" fill="#D42A2A"/>
<circle cx="447.00" cy="183.40" r="0.95" fill="#D42A2A"/>
<text x="307.50" y="217.01" font-size="12.4" text-anchor="start" fill="#000" font-weight="bold" >G</text>
<text x="324.20" y="216.32" font-size="4.5" text-anchor="start" fill="#333" stroke="#333" stroke-width="0.09" >OS with anti-PD-1 treatment</text>
<rect x="324.90" y="218.80" width="88.10" height="108.90" fill="#EBEBEB" />
<line x1="342.75" y1="218.80" x2="342.75" y2="327.70" stroke="#fff" stroke-width="0.3" />
<line x1="365.25" y1="218.80" x2="365.25" y2="327.70" stroke="#fff" stroke-width="0.3" />
<line x1="387.75" y1="218.80" x2="387.75" y2="327.70" stroke="#fff" stroke-width="0.3" />
<line x1="410.25" y1="218.80" x2="410.25" y2="327.70" stroke="#fff" stroke-width="0.3" />
<line x1="324.90" y1="220.20" x2="413.00" y2="220.20" stroke="#fff" stroke-width="0.3" />
<line x1="324.90" y1="246.20" x2="413.00" y2="246.20" stroke="#fff" stroke-width="0.3" />
<line x1="324.90" y1="272.20" x2="413.00" y2="272.20" stroke="#fff" stroke-width="0.3" />
<line x1="324.90" y1="298.20" x2="413.00" y2="298.20" stroke="#fff" stroke-width="0.3" />
<line x1="324.90" y1="324.20" x2="413.00" y2="324.20" stroke="#fff" stroke-width="0.3" />
<line x1="331.50" y1="218.80" x2="331.50" y2="327.70" stroke="#fff" stroke-width="0.55" />
<line x1="331.50" y1="327.70" x2="331.50" y2="328.90" stroke="#555" stroke-width="0.45" />
<text x="331.50" y="331.28" font-size="3.0" text-anchor="middle" fill="none" stroke="#4D4D4D" stroke-width="0.200" >-2</text>
<line x1="354.00" y1="218.80" x2="354.00" y2="327.70" stroke="#fff" stroke-width="0.55" />
<line x1="354.00" y1="327.70" x2="354.00" y2="328.90" stroke="#555" stroke-width="0.45" />
<text x="354.00" y="331.28" font-size="3.0" text-anchor="middle" fill="none" stroke="#4D4D4D" stroke-width="0.200" >-1</text>
<line x1="376.50" y1="218.80" x2="376.50" y2="327.70" stroke="#fff" stroke-width="0.55" />
<line x1="376.50" y1="327.70" x2="376.50" y2="328.90" stroke="#555" stroke-width="0.45" />
<text x="376.50" y="331.28" font-size="3.0" text-anchor="middle" fill="none" stroke="#4D4D4D" stroke-width="0.200" >0</text>
<line x1="399.00" y1="218.80" x2="399.00" y2="327.70" stroke="#fff" stroke-width="0.55" />
<line x1="399.00" y1="327.70" x2="399.00" y2="328.90" stroke="#555" stroke-width="0.45" />
<text x="399.00" y="331.28" font-size="3.0" text-anchor="middle" fill="none" stroke="#4D4D4D" stroke-width="0.200" >1</text>
<line x1="324.90" y1="233.20" x2="413.00" y2="233.20" stroke="#fff" stroke-width="0.55" />
<line x1="323.70" y1="233.20" x2="324.90" y2="233.20" stroke="#555" stroke-width="0.45" />
<text x="323.10" y="234.28" font-size="3.0" text-anchor="end" fill="none" stroke="#4D4D4D" stroke-width="0.200" >4</text>
<line x1="324.90" y1="259.20" x2="413.00" y2="259.20" stroke="#fff" stroke-width="0.55" />
<line x1="323.70" y1="259.20" x2="324.90" y2="259.20" stroke="#555" stroke-width="0.45" />
<text x="323.10" y="260.28" font-size="3.0" text-anchor="end" fill="none" stroke="#4D4D4D" stroke-width="0.200" >3</text>
<line x1="324.90" y1="285.40" x2="413.00" y2="285.40" stroke="#fff" stroke-width="0.55" />
<line x1="323.70" y1="285.40" x2="324.90" y2="285.40" stroke="#555" stroke-width="0.45" />
<text x="323.10" y="286.48" font-size="3.0" text-anchor="end" fill="none" stroke="#4D4D4D" stroke-width="0.200" >2</text>
<line x1="324.90" y1="311.40" x2="413.00" y2="311.40" stroke="#fff" stroke-width="0.55" />
<line x1="323.70" y1="311.40" x2="324.90" y2="311.40" stroke="#555" stroke-width="0.45" />
<text x="323.10" y="312.48" font-size="3.0" text-anchor="end" fill="none" stroke="#4D4D4D" stroke-width="0.200" >1</text>
<text transform="translate(315.17,274.50) rotate(-90)" font-size="5.2" text-anchor="middle" fill="#222" stroke="#222" stroke-width="0.09">-Log<tspan font-size="3.4" dy="1.3">10</tspan><tspan dy="-1.3"> (P)</tspan></text>
<text x="370.60" y="338.52" font-size="4.5" text-anchor="middle" fill="#222" stroke="#222" stroke-width="0.09" >Z-score</text>
<rect x="328.80" y="221.20" width="9.20" height="5.00" rx="0.8" fill="#fff" stroke="#444" stroke-width="0.5"/>
<text x="333.40" y="224.96" font-size="3.5" text-anchor="middle" fill="none" stroke="#000" stroke-width="0.200" >2IR</text>
<rect x="340.40" y="254.60" width="41.50" height="5.80" rx="0.8" fill="#fff" stroke="#444" stroke-width="0.5"/>
<text x="361.15" y="258.76" font-size="3.5" text-anchor="middle" fill="none" stroke="#000" stroke-width="0.200" >CD8effectors/VSTGFB1</text>
<rect x="327.20" y="278.80" width="24.00" height="4.80" rx="0.8" fill="#fff" stroke="#444" stroke-width="0.5"/>
<text x="339.20" y="282.46" font-size="3.5" text-anchor="middle" fill="none" stroke="#000" stroke-width="0.200" >CD8effectors</text>
<rect x="343.80" y="291.90" width="12.20" height="4.80" rx="0.8" fill="#fff" stroke="#444" stroke-width="0.5"/>
<text x="349.90" y="295.56" font-size="3.5" text-anchor="middle" fill="none" stroke="#000" stroke-width="0.200" >PDL1</text>
<rect x="350.80" y="301.80" width="15.00" height="4.80" rx="0.8" fill="#fff" stroke="#444" stroke-width="0.5"/>
<text x="358.30" y="305.46" font-size="3.5" text-anchor="middle" fill="none" stroke="#000" stroke-width="0.200" >logTMB</text>
<rect x="350.80" y="309.70" width="16.60" height="4.80" rx="0.8" fill="#fff" stroke="#444" stroke-width="0.5"/>
<text x="359.10" y="313.36" font-size="3.5" text-anchor="middle" fill="none" stroke="#000" stroke-width="0.200" >CXCL13</text>
<rect x="399.20" y="281.50" width="8.10" height="4.80" rx="0.8" fill="#fff" stroke="#444" stroke-width="0.5"/>
<text x="403.25" y="285.16" font-size="3.5" text-anchor="middle" fill="none" stroke="#000" stroke-width="0.200" >IL8</text>
<rect x="396.50" y="295.40" width="14.30" height="4.80" rx="0.8" fill="#fff" stroke="#444" stroke-width="0.5"/>
<text x="403.65" y="299.06" font-size="3.5" text-anchor="middle" fill="none" stroke="#000" stroke-width="0.200" >TGFB1</text>
<rect x="387.20" y="316.20" width="10.80" height="5.00" rx="0.8" fill="#fff" stroke="#444" stroke-width="0.5"/>
<text x="392.60" y="319.96" font-size="3.5" text-anchor="middle" fill="none" stroke="#000" stroke-width="0.200" >TIDE</text>
<line x1="353.00" y1="296.50" x2="354.70" y2="301.20" stroke="#4A0E0E" stroke-width="0.75" />
<circle cx="328.20" cy="223.50" r="0.95" fill="#D42A2A"/>
<circle cx="338.80" cy="260.80" r="0.95" fill="#D42A2A"/>
<circle cx="346.80" cy="285.70" r="0.95" fill="#D42A2A"/>
<circle cx="353.00" cy="298.80" r="0.95" fill="#D42A2A"/>
<circle cx="354.70" cy="301.20" r="0.95" fill="#D42A2A"/>
<circle cx="355.40" cy="308.10" r="0.95" fill="#D42A2A"/>
<circle cx="407.30" cy="283.80" r="0.95" fill="#D42A2A"/>
<circle cx="400.00" cy="301.80" r="0.95" fill="#D42A2A"/>
<circle cx="388.80" cy="323.10" r="0.95" fill="#D42A2A"/>
<text x="468.50" y="216.30" font-size="4.45" text-anchor="middle" fill="none" stroke="#333" stroke-width="0.250" >Response with anti-PD-1 treatment</text>
<rect x="433.50" y="218.40" width="85.00" height="109.30" fill="#EBEBEB" />
<line x1="443.30" y1="218.40" x2="443.30" y2="327.70" stroke="#fff" stroke-width="0.3" />
<line x1="458.30" y1="218.40" x2="458.30" y2="327.70" stroke="#fff" stroke-width="0.3" />
<line x1="473.30" y1="218.40" x2="473.30" y2="327.70" stroke="#fff" stroke-width="0.3" />
<line x1="488.30" y1="218.40" x2="488.30" y2="327.70" stroke="#fff" stroke-width="0.3" />
<line x1="503.30" y1="218.40" x2="503.30" y2="327.70" stroke="#fff" stroke-width="0.3" />
<line x1="518.30" y1="218.40" x2="518.30" y2="327.70" stroke="#fff" stroke-width="0.3" />
<line x1="433.50" y1="235.25" x2="518.50" y2="235.25" stroke="#fff" stroke-width="0.3" />
<line x1="433.50" y1="271.75" x2="518.50" y2="271.75" stroke="#fff" stroke-width="0.3" />
<line x1="433.50" y1="308.25" x2="518.50" y2="308.25" stroke="#fff" stroke-width="0.3" />
<line x1="435.80" y1="218.40" x2="435.80" y2="327.70" stroke="#fff" stroke-width="0.55" />
<line x1="435.80" y1="327.70" x2="435.80" y2="328.90" stroke="#555" stroke-width="0.45" />
<text x="435.80" y="331.28" font-size="3.0" text-anchor="middle" fill="none" stroke="#4D4D4D" stroke-width="0.200" >0.40</text>
<line x1="450.80" y1="218.40" x2="450.80" y2="327.70" stroke="#fff" stroke-width="0.55" />
<line x1="450.80" y1="327.70" x2="450.80" y2="328.90" stroke="#555" stroke-width="0.45" />
<text x="450.80" y="331.28" font-size="3.0" text-anchor="middle" fill="none" stroke="#4D4D4D" stroke-width="0.200" >0.45</text>
<line x1="465.80" y1="218.40" x2="465.80" y2="327.70" stroke="#fff" stroke-width="0.55" />
<line x1="465.80" y1="327.70" x2="465.80" y2="328.90" stroke="#555" stroke-width="0.45" />
<text x="465.80" y="331.28" font-size="3.0" text-anchor="middle" fill="none" stroke="#4D4D4D" stroke-width="0.200" >0.50</text>
<line x1="480.80" y1="218.40" x2="480.80" y2="327.70" stroke="#fff" stroke-width="0.55" />
<line x1="480.80" y1="327.70" x2="480.80" y2="328.90" stroke="#555" stroke-width="0.45" />
<text x="480.80" y="331.28" font-size="3.0" text-anchor="middle" fill="none" stroke="#4D4D4D" stroke-width="0.200" >0.55</text>
<line x1="495.80" y1="218.40" x2="495.80" y2="327.70" stroke="#fff" stroke-width="0.55" />
<line x1="495.80" y1="327.70" x2="495.80" y2="328.90" stroke="#555" stroke-width="0.45" />
<text x="495.80" y="331.28" font-size="3.0" text-anchor="middle" fill="none" stroke="#4D4D4D" stroke-width="0.200" >0.60</text>
<line x1="510.80" y1="218.40" x2="510.80" y2="327.70" stroke="#fff" stroke-width="0.55" />
<line x1="510.80" y1="327.70" x2="510.80" y2="328.90" stroke="#555" stroke-width="0.45" />
<text x="510.80" y="331.28" font-size="3.0" text-anchor="middle" fill="none" stroke="#4D4D4D" stroke-width="0.200" >0.65</text>
<line x1="433.50" y1="253.50" x2="518.50" y2="253.50" stroke="#fff" stroke-width="0.55" />
<line x1="432.30" y1="253.50" x2="433.50" y2="253.50" stroke="#555" stroke-width="0.45" />
<text x="431.70" y="254.58" font-size="3.0" text-anchor="end" fill="none" stroke="#4D4D4D" stroke-width="0.200" >1.0</text>
<line x1="433.50" y1="290.00" x2="518.50" y2="290.00" stroke="#fff" stroke-width="0.55" />
<line x1="432.30" y1="290.00" x2="433.50" y2="290.00" stroke="#555" stroke-width="0.45" />
<text x="431.70" y="291.08" font-size="3.0" text-anchor="end" fill="none" stroke="#4D4D4D" stroke-width="0.200" >0.5</text>
<line x1="433.50" y1="326.50" x2="518.50" y2="326.50" stroke="#fff" stroke-width="0.55" />
<line x1="432.30" y1="326.50" x2="433.50" y2="326.50" stroke="#555" stroke-width="0.45" />
<text x="431.70" y="327.58" font-size="3.0" text-anchor="end" fill="none" stroke="#4D4D4D" stroke-width="0.200" >0.0</text>
<text transform="translate(423.67,272.20) rotate(-90)" font-size="5.2" text-anchor="middle" fill="#222" stroke="#222" stroke-width="0.09">-Log<tspan font-size="3.4" dy="1.3">10</tspan><tspan dy="-1.3"> (P)</tspan></text>
<text x="476.20" y="338.52" font-size="4.5" text-anchor="middle" fill="#222" stroke="#222" stroke-width="0.09" >AUC</text>
<rect x="496.70" y="220.60" width="8.20" height="4.20" rx="0.8" fill="#fff" stroke="#444" stroke-width="0.5"/>
<text x="500.80" y="223.96" font-size="3.5" text-anchor="middle" fill="none" stroke="#000" stroke-width="0.200" >2IR</text>
<rect x="503.60" y="229.20" width="14.70" height="4.60" rx="0.8" fill="#fff" stroke="#444" stroke-width="0.5"/>
<text x="510.95" y="232.76" font-size="3.5" text-anchor="middle" fill="none" stroke="#000" stroke-width="0.200" >logTMB</text>
<rect x="469.20" y="235.00" width="42.00" height="4.60" rx="0.8" fill="#fff" stroke="#444" stroke-width="0.5"/>
<text x="490.20" y="238.56" font-size="3.5" text-anchor="middle" fill="none" stroke="#000" stroke-width="0.200" >CD8effectors/VSTGFB1</text>
<rect x="473.40" y="242.60" width="23.90" height="4.60" rx="0.8" fill="#fff" stroke="#444" stroke-width="0.5"/>
<text x="485.35" y="246.16" font-size="3.5" text-anchor="middle" fill="none" stroke="#000" stroke-width="0.200" >CD8effectors</text>
<rect x="496.30" y="251.20" width="16.90" height="4.60" rx="0.8" fill="#fff" stroke="#444" stroke-width="0.5"/>
<text x="504.75" y="254.76" font-size="3.5" text-anchor="middle" fill="none" stroke="#000" stroke-width="0.200" >CXCL13</text>
<rect x="490.60" y="262.60" width="8.60" height="4.20" rx="0.8" fill="#fff" stroke="#444" stroke-width="0.5"/>
<text x="494.90" y="265.96" font-size="3.5" text-anchor="middle" fill="none" stroke="#000" stroke-width="0.200" >IL8</text>
<rect x="478.20" y="270.30" width="11.40" height="4.50" rx="0.8" fill="#fff" stroke="#444" stroke-width="0.5"/>
<text x="483.90" y="273.81" font-size="3.5" text-anchor="middle" fill="none" stroke="#000" stroke-width="0.200" >PDL1</text>
<rect x="465.00" y="302.30" width="14.60" height="4.60" rx="0.8" fill="#fff" stroke="#444" stroke-width="0.5"/>
<text x="472.30" y="305.86" font-size="3.5" text-anchor="middle" fill="none" stroke="#000" stroke-width="0.200" >TGFB1</text>
<rect x="438.00" y="320.80" width="11.60" height="4.60" rx="0.8" fill="#fff" stroke="#444" stroke-width="0.5"/>
<text x="443.80" y="324.36" font-size="3.5" text-anchor="middle" fill="none" stroke="#000" stroke-width="0.200" >TIDE</text>
<line x1="499.20" y1="243.30" x2="500.20" y2="250.40" stroke="#4A0E0E" stroke-width="0.75" />
<line x1="497.30" y1="247.00" x2="499.20" y2="243.30" stroke="#4A0E0E" stroke-width="0.75" />
<circle cx="505.90" cy="223.60" r="0.95" fill="#D42A2A"/>
<circle cx="514.50" cy="226.90" r="0.95" fill="#D42A2A"/>
<circle cx="499.20" cy="241.00" r="0.95" fill="#D42A2A"/>
<circle cx="499.20" cy="243.30" r="0.95" fill="#D42A2A"/>
<circle cx="500.20" cy="250.40" r="0.95" fill="#D42A2A"/>
<circle cx="497.30" cy="260.90" r="0.95" fill="#D42A2A"/>
<circle cx="486.80" cy="268.50" r="0.95" fill="#D42A2A"/>
<circle cx="475.70" cy="300.50" r="0.95" fill="#D42A2A"/>
<circle cx="436.90" cy="323.50" r="0.95" fill="#D42A2A"/>
<text x="1.35" y="215.71" font-size="12.4" text-anchor="start" fill="#000" font-weight="bold" >E</text>
<text x="95.60" y="216.75" font-size="4.85" text-anchor="middle" fill="#000" stroke="#000" stroke-width="0.09" >Anti-PD-1 treatment (CheckMate 275 OS)</text>
<line x1="31.40" y1="218.00" x2="31.40" y2="294.50" stroke="#222" stroke-width="0.6" />
<line x1="31.20" y1="294.30" x2="152.00" y2="294.30" stroke="#222" stroke-width="0.6" />
<text x="28.30" y="223.19" font-size="3.3" text-anchor="end" fill="none" stroke="#4D4D4D" stroke-width="0.200" >1.00</text>
<line x1="30.00" y1="222.00" x2="31.40" y2="222.00" stroke="#222" stroke-width="0.5" />
<text x="28.30" y="241.19" font-size="3.3" text-anchor="end" fill="none" stroke="#4D4D4D" stroke-width="0.200" >0.75</text>
<line x1="30.00" y1="240.00" x2="31.40" y2="240.00" stroke="#222" stroke-width="0.5" />
<text x="28.30" y="258.69" font-size="3.3" text-anchor="end" fill="none" stroke="#4D4D4D" stroke-width="0.200" >0.50</text>
<line x1="30.00" y1="257.50" x2="31.40" y2="257.50" stroke="#222" stroke-width="0.5" />
<text x="28.30" y="276.19" font-size="3.3" text-anchor="end" fill="none" stroke="#4D4D4D" stroke-width="0.200" >0.25</text>
<line x1="30.00" y1="275.00" x2="31.40" y2="275.00" stroke="#222" stroke-width="0.5" />
<text x="28.30" y="293.79" font-size="3.3" text-anchor="end" fill="none" stroke="#4D4D4D" stroke-width="0.200" >0.00</text>
<line x1="30.00" y1="292.60" x2="31.40" y2="292.60" stroke="#222" stroke-width="0.5" />
<text transform="translate(16.91,255.00) rotate(-90)" font-size="5.3" text-anchor="middle" fill="#222" stroke="#222" stroke-width="0.09">Survival probability</text>
<line x1="37.00" y1="294.30" x2="37.00" y2="295.60" stroke="#222" stroke-width="0.5" />
<text x="37.00" y="297.39" font-size="3.3" text-anchor="middle" fill="none" stroke="#4D4D4D" stroke-width="0.200" >0</text>
<line x1="64.60" y1="294.30" x2="64.60" y2="295.60" stroke="#222" stroke-width="0.5" />
<text x="64.60" y="297.39" font-size="3.3" text-anchor="middle" fill="none" stroke="#4D4D4D" stroke-width="0.200" >10</text>
<line x1="92.30" y1="294.30" x2="92.30" y2="295.60" stroke="#222" stroke-width="0.5" />
<text x="92.30" y="297.39" font-size="3.3" text-anchor="middle" fill="none" stroke="#4D4D4D" stroke-width="0.200" >20</text>
<line x1="120.00" y1="294.30" x2="120.00" y2="295.60" stroke="#222" stroke-width="0.5" />
<text x="120.00" y="297.39" font-size="3.3" text-anchor="middle" fill="none" stroke="#4D4D4D" stroke-width="0.200" >30</text>
<line x1="147.60" y1="294.30" x2="147.60" y2="295.60" stroke="#222" stroke-width="0.5" />
<text x="148.80" y="301.19" font-size="3.3" text-anchor="middle" fill="none" stroke="#4D4D4D" stroke-width="0.200" >40</text>
<text x="93.10" y="300.98" font-size="4.1" text-anchor="middle" fill="none" stroke="#222" stroke-width="0.250" >Time (months)</text>
<text x="38.70" y="276.15" font-size="4.3" text-anchor="start" fill="none" stroke="#222" stroke-width="0.250" >P = 0.00028</text>
<line x1="106.30" y1="223.00" x2="114.40" y2="223.00" stroke="#6A6A6A" stroke-width="1.0" />
<text x="117.10" y="224.30" font-size="3.6" text-anchor="start" fill="none" stroke="#222" stroke-width="0.200" >2IR score high</text>
<line x1="106.30" y1="227.10" x2="114.40" y2="227.10" stroke="#E7B800" stroke-width="1.0" />
<text x="117.10" y="228.40" font-size="3.6" text-anchor="start" fill="none" stroke="#222" stroke-width="0.200" >2IR score middle</text>
<line x1="106.30" y1="231.20" x2="114.40" y2="231.20" stroke="#2862B0" stroke-width="1.0" />
<text x="117.10" y="232.50" font-size="3.6" text-anchor="start" fill="none" stroke="#222" stroke-width="0.200" >2IR score low</text>
<polyline points="36.60,217.60 38.20,217.60 38.20,220.10 40.20,220.10 40.20,222.50 42.20,222.50 42.20,225.20 44.50,225.20 44.50,228.50 46.90,228.50 46.90,231.90 57.20,231.90 57.20,235.20 63.10,235.20 63.10,238.00 78.70,238.00 78.70,241.60 101.70,241.60 101.70,245.20 107.20,245.20 107.20,248.50 140.00,248.50 140.00,252.80 153.90,252.80 153.90,252.80" fill="none" stroke="#6A6A6A" stroke-width="1.05" stroke-linejoin="miter" />
<polyline points="37.00,217.90 38.20,217.90 38.20,221.52 39.40,221.52 39.40,225.13 40.60,225.13 40.60,228.75 41.80,228.75 41.80,232.36 43.00,232.36 43.00,235.98 44.20,235.98 44.20,239.59 45.40,239.59 45.40,243.21 46.60,243.21 46.60,246.82 47.80,246.82 47.80,250.44 49.00,250.44 49.00,254.05 50.20,254.05 50.20,257.67 51.40,257.67 51.40,261.28 52.60,261.28 52.60,264.90 59.90,264.90 59.90,267.50 116.25,267.50 116.25,272.50 121.25,272.50 121.25,275.75 141.25,275.75 141.25,275.75" fill="none" stroke="#E7B800" stroke-width="1.2" stroke-linejoin="miter" />
<polyline points="37.40,217.90 38.36,217.90 38.36,220.91 39.31,220.91 39.31,223.92 40.27,223.92 40.27,226.93 41.22,226.93 41.22,229.94 42.18,229.94 42.18,232.96 43.13,232.96 43.13,235.97 44.09,235.97 44.09,238.98 45.04,238.98 45.04,241.99 46.00,241.99 46.00,245.00 47.10,245.00 47.10,247.77 48.20,247.77 48.20,250.53 49.30,250.53 49.30,253.30 50.40,253.30 50.40,256.07 51.50,256.07 51.50,258.83 52.60,258.83 52.60,261.60 60.50,261.60 60.50,264.90 66.50,264.90 66.50,266.50 67.33,266.50 67.33,270.07 68.15,270.07 68.15,273.65 68.97,273.65 68.97,277.23 69.80,277.23 69.80,280.80 84.40,280.80 84.40,284.70 117.50,284.70 117.50,284.70" fill="none" stroke="#2862B0" stroke-width="1.2" stroke-linejoin="miter" />
<line x1="117.50" y1="283.80" x2="117.50" y2="286.50" stroke="#2862B0" stroke-width="0.6" />
<text x="31.20" y="313.86" font-size="4.6" text-anchor="start" fill="#222" stroke="#222" stroke-width="0.09" >Number at risk</text>
<text transform="translate(5.80,322.50) rotate(-90)" font-size="3.9" text-anchor="middle" fill="none" stroke="#222" stroke-width="0.200">Strata</text>
<line x1="31.40" y1="315.50" x2="31.40" y2="328.70" stroke="#222" stroke-width="0.6" />
<line x1="31.40" y1="328.50" x2="152.00" y2="328.50" stroke="#222" stroke-width="0.6" />
<text x="29.60" y="319.43" font-size="3.7" text-anchor="end" fill="none" stroke="#5B84C4" stroke-width="0.200" >2IR = low</text>
<rect x="31.00" y="316.70" width="0.80" height="2.80" fill="#5B84C4" />
<text x="36.60" y="319.40" font-size="3.6" text-anchor="middle" fill="none" stroke="#222" stroke-width="0.200" >26</text>
<text x="64.40" y="319.40" font-size="3.6" text-anchor="middle" fill="none" stroke="#222" stroke-width="0.200" >8</text>
<text x="92.40" y="319.40" font-size="3.6" text-anchor="middle" fill="none" stroke="#222" stroke-width="0.200" >1</text>
<text x="120.30" y="319.40" font-size="3.6" text-anchor="middle" fill="none" stroke="#222" stroke-width="0.200" >0</text>
<text x="148.20" y="319.40" font-size="3.6" text-anchor="middle" fill="none" stroke="#222" stroke-width="0.200" >0</text>
<text x="29.60" y="323.63" font-size="3.7" text-anchor="end" fill="none" stroke="#E3CB6A" stroke-width="0.200" >2IR = middle</text>
<rect x="31.00" y="320.90" width="0.80" height="2.80" fill="#E3CB6A" />
<text x="36.60" y="323.60" font-size="3.6" text-anchor="middle" fill="none" stroke="#222" stroke-width="0.200" >24</text>
<text x="64.40" y="323.60" font-size="3.6" text-anchor="middle" fill="none" stroke="#222" stroke-width="0.200" >7</text>
<text x="92.40" y="323.60" font-size="3.6" text-anchor="middle" fill="none" stroke="#222" stroke-width="0.200" >6</text>
<text x="120.30" y="323.60" font-size="3.6" text-anchor="middle" fill="none" stroke="#222" stroke-width="0.200" >4</text>
<text x="148.20" y="323.60" font-size="3.6" text-anchor="middle" fill="none" stroke="#222" stroke-width="0.200" >0</text>
<text x="29.60" y="327.83" font-size="3.7" text-anchor="end" fill="none" stroke="#9C98B4" stroke-width="0.200" >2IR = high</text>
<rect x="31.00" y="325.10" width="0.80" height="2.80" fill="#9C98B4" />
<text x="36.60" y="327.80" font-size="3.6" text-anchor="middle" fill="none" stroke="#222" stroke-width="0.200" >24</text>
<text x="64.40" y="327.80" font-size="3.6" text-anchor="middle" fill="none" stroke="#222" stroke-width="0.200" >10</text>
<text x="92.40" y="327.80" font-size="3.6" text-anchor="middle" fill="none" stroke="#222" stroke-width="0.200" >13</text>
<text x="120.30" y="327.80" font-size="3.6" text-anchor="middle" fill="none" stroke="#222" stroke-width="0.200" >11</text>
<text x="148.20" y="327.80" font-size="3.6" text-anchor="middle" fill="none" stroke="#222" stroke-width="0.200" >2</text>
<line x1="37.00" y1="328.50" x2="37.00" y2="329.70" stroke="#222" stroke-width="0.5" />
<text x="37.00" y="333.59" font-size="3.3" text-anchor="middle" fill="none" stroke="#4D4D4D" stroke-width="0.200" >0</text>
<line x1="64.60" y1="328.50" x2="64.60" y2="329.70" stroke="#222" stroke-width="0.5" />
<text x="64.60" y="333.59" font-size="3.3" text-anchor="middle" fill="none" stroke="#4D4D4D" stroke-width="0.200" >10</text>
<line x1="92.30" y1="328.50" x2="92.30" y2="329.70" stroke="#222" stroke-width="0.5" />
<text x="92.30" y="333.59" font-size="3.3" text-anchor="middle" fill="none" stroke="#4D4D4D" stroke-width="0.200" >20</text>
<line x1="120.00" y1="328.50" x2="120.00" y2="329.70" stroke="#222" stroke-width="0.5" />
<text x="120.00" y="333.59" font-size="3.3" text-anchor="middle" fill="none" stroke="#4D4D4D" stroke-width="0.200" >30</text>
<line x1="147.60" y1="328.50" x2="147.60" y2="329.70" stroke="#222" stroke-width="0.5" />
<text x="147.60" y="333.59" font-size="3.3" text-anchor="middle" fill="none" stroke="#4D4D4D" stroke-width="0.200" >40</text>
<text x="93.10" y="338.88" font-size="4.1" text-anchor="middle" fill="none" stroke="#222" stroke-width="0.250" >Time (months)</text>
</g>
</svg></div>
</body></html>
